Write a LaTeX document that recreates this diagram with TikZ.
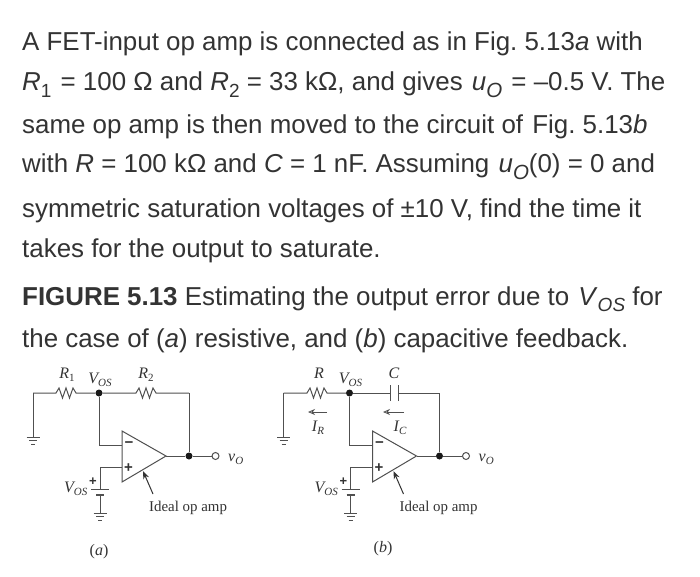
\documentclass[tikz,border=0pt]{standalone}
\usepackage{fontspec}
\setmainfont{Liberation Sans}
\newfontfamily\figfont{Liberation Serif}
\usetikzlibrary{arrows.meta}
\definecolor{ink}{HTML}{333333}
\definecolor{wire}{HTML}{505050}
\newcommand\lowr[1]{\raisebox{-.24em}{\fontsize{19}{19}\selectfont #1}}
\newcommand\lowo[1]{\raisebox{-.24em}{\fontsize{20.5}{20}\selectfont\itshape #1}}
\newcommand\lowf[1]{\raisebox{-.22em}{\fontsize{11}{11}\selectfont #1}}
\frenchspacing
\tikzset{
  body/.style={anchor=base west,inner sep=0pt,text=ink,font=\fontsize{25.9}{30}\selectfont},
  lab/.style={anchor=base,inner sep=0pt,text=ink,font=\figfont\itshape\fontsize{16}{18}\selectfont},
  labw/.style={lab,anchor=base west},
  plain/.style={anchor=base west,inner sep=0pt,text=ink,font=\figfont\fontsize{14.9}{16}\selectfont},
  sign/.style={anchor=center,inner sep=0pt,text=ink,font=\bfseries\fontsize{15}{15}\selectfont},
  wr/.style={draw=wire,line width=1pt,line join=miter},
  dotn/.style={circle,fill=black!90,inner sep=0pt,minimum size=7pt},
  opn/.style={circle,draw=wire,fill=white,line width=1pt,inner sep=0pt,minimum size=7pt},
  curr/.style={draw=wire,line width=.8pt,-{Stealth[open,length=7pt,width=6pt]}},
  big/.style={draw=ink,line width=1pt,-{Stealth[length=8pt,width=6pt]}}
}
% common part of both circuits: #1 prefix, #2 horizontal offset
\newcommand\commonpart[2]{%
\begin{scope}[xshift=#2pt]
  \coordinate (#1west) at (33,393);
  \coordinate (#1gndL) at (33,437);
  \node[dotn] (#1sum) at (99,393) {};
  \coordinate (#1fb) at (189,393);
  \node[dotn] (#1out) at (189,456) {};
  \node[opn] (#1vo) at (215.5,456) {};
  \coordinate (#1tl) at (122,431);
  \coordinate (#1bl) at (122,482);
  \coordinate (#1apex) at (166,456);
  \coordinate (#1minus) at (122,445);
  \coordinate (#1plus) at (122,467);
  \coordinate (#1batT) at (100,489);
  \coordinate (#1batB) at (100,495);
  \coordinate (#1gndB) at (100,513);
  \draw[wr] (#1sum) |- (#1minus);
  \draw[wr] (#1plus) -| (#1batT);
  \draw[wr] (#1batB) -- (#1gndB);
  \draw[wr] (#1west) -- (#1gndL);
  \draw[wr] (#1fb) -- (#1out);
  \draw[wr] (#1apex) -- (#1out) -- (#1vo);
  \draw[wr] (#1tl) -- (#1apex) -- (#1bl) -- cycle;
  \draw[wr] ([xshift=-9pt]#1batT) -- ([xshift=9pt]#1batT);
  \draw[wr,line width=1.2pt] ([xshift=-4pt]#1batB) -- ([xshift=4pt]#1batB);
  \foreach \g in {#1gndL,#1gndB}{
    \draw[wr] ([xshift=-6.5pt]\g) -- ([xshift=6.5pt]\g);
    \draw[wr] ([xshift=-4pt,yshift=-3.5pt]\g) -- ([xshift=4pt,yshift=-3.5pt]\g);
    \draw[wr] ([xshift=-2pt,yshift=-7pt]\g) -- ([xshift=2pt,yshift=-7pt]\g);
  }
  \node[sign] (#1mlab) at (129,445) {−};
  \node[sign] (#1plab) at (128.5,468) {+};
  \node[sign,font=\bfseries\fontsize{13}{13}\selectfont] (#1bplus) at (93,482) {+};
  \coordinate (#1artail) at (153,494);
  \coordinate (#1arhead) at (143,471);
  \draw[big] (#1artail) -- (#1arhead);
  \node[plain] (#1ideal) at (149,511) {Ideal op amp};
  \node[labw] (#1volab) at (228,461) {v\lowf{O}};
  \node[labw] (#1vosB) at (64,492) {V\lowf{OS}};
  \node[lab] (#1vosT) at (100,383) {V\lowf{OS}};
\end{scope}}
\begin{document}
\begin{tikzpicture}[x=1pt,y=-1pt]
\useasboundingbox (0,0) rectangle (700,577);
\fill[white] (0,0) rectangle (700,577);
\node[body] (t1) at (22,51) {A FET-input op amp is connected as in Fig. 5.13\textit{a} with};
\node[body] (t2) at (22,91) {\textit{R}\lowr{1}\hspace{2pt} = 100 Ω and \textit{R}\lowr{2} = 33 kΩ, and gives\hspace{2pt} \textit{u}\lowo{O}\hspace{2pt} = –0.5 V. The};
\node[body] (t3) at (22,134) {same op amp is then moved to the circuit of\hspace{2pt} Fig. 5.13\textit{b}};
\node[body] (t4) at (22,173) {with \textit{R} = 100 kΩ and \textit{C} = 1 nF. Assuming\hspace{2pt} \textit{u}\lowo{O}(0) = 0 and};
\node[body] (t5) at (22,217) {symmetric saturation voltages of ±10 V, find the time it};
\node[body] (t6) at (22,257) {takes for the output to saturate.};
\node[body] (t7) at (22,305) {\textbf{FIGURE 5.13} Estimating the output error due to\hspace{2pt} \textit{V}\lowr{\textit{OS}} for};
\node[body] (t8) at (22,347) {the case of (\textit{a}) resistive, and (\textit{b}) capacitive feedback.};

\commonpart{a}{0}
\commonpart{b}{250.5}

% circuit a: resistors
\coordinate (r1a) at (56,393); \coordinate (r1b) at (78,393);
\coordinate (r2a) at (136,393); \coordinate (r2b) at (158,393);
\draw[wr] (awest) -- (r1a) -- ++(3,-5) -- ++(3.5,10) -- ++(3.5,-10) -- ++(3.5,10) -- ++(3.5,-10) -- ++(3,5) -- (r1b) -- (asum);
\draw[wr] (asum) -- (r2a) -- ++(3,-5) -- ++(3.5,10) -- ++(3.5,-10) -- ++(3.5,10) -- ++(3.5,-10) -- ++(3,5) -- (r2b) -- (afb);
\node[lab] (lr1) at (67,378) {R\lowf{\textup{1}}};
\node[lab] (lr2) at (146,378) {R\lowf{\textup{2}}};
\node[lab] (lca) at (99,555) {\textup{(}a\textup{)}};

% circuit b
\coordinate (rba) at (307,393); \coordinate (rbb) at (329,393);
\coordinate (ca) at (390,393); \coordinate (cb) at (398,393);
\draw[wr] (bwest) -- (rba) -- ++(3,-5) -- ++(3.5,10) -- ++(3.5,-10) -- ++(3.5,10) -- ++(3.5,-10) -- ++(3,5) -- (rbb) -- (bsum);
\draw[wr] (bsum) -- (ca);
\draw[wr] (cb) -- (bfb);
\draw[wr] ([yshift=-8pt]ca) -- ([yshift=8pt]ca);
\draw[wr] ([yshift=-8pt]cb) -- ([yshift=8pt]cb);
\node[lab] (lr) at (319,378) {R};
\node[lab] (lc) at (394,378) {C};
\coordinate (irs) at (327,412); \coordinate (ire) at (308,412);
\coordinate (ics) at (404,412); \coordinate (ice) at (383,412);
\draw[curr] (irs) -- (ire);
\draw[curr] (ics) -- (ice);
\node[lab] (lir) at (318,431) {I\lowf{R}};
\node[lab] (lic) at (400,431) {I\lowf{C}};
\node[lab] (lcb) at (383,552) {\textup{(}b\textup{)}};
\end{tikzpicture}
\end{document}
